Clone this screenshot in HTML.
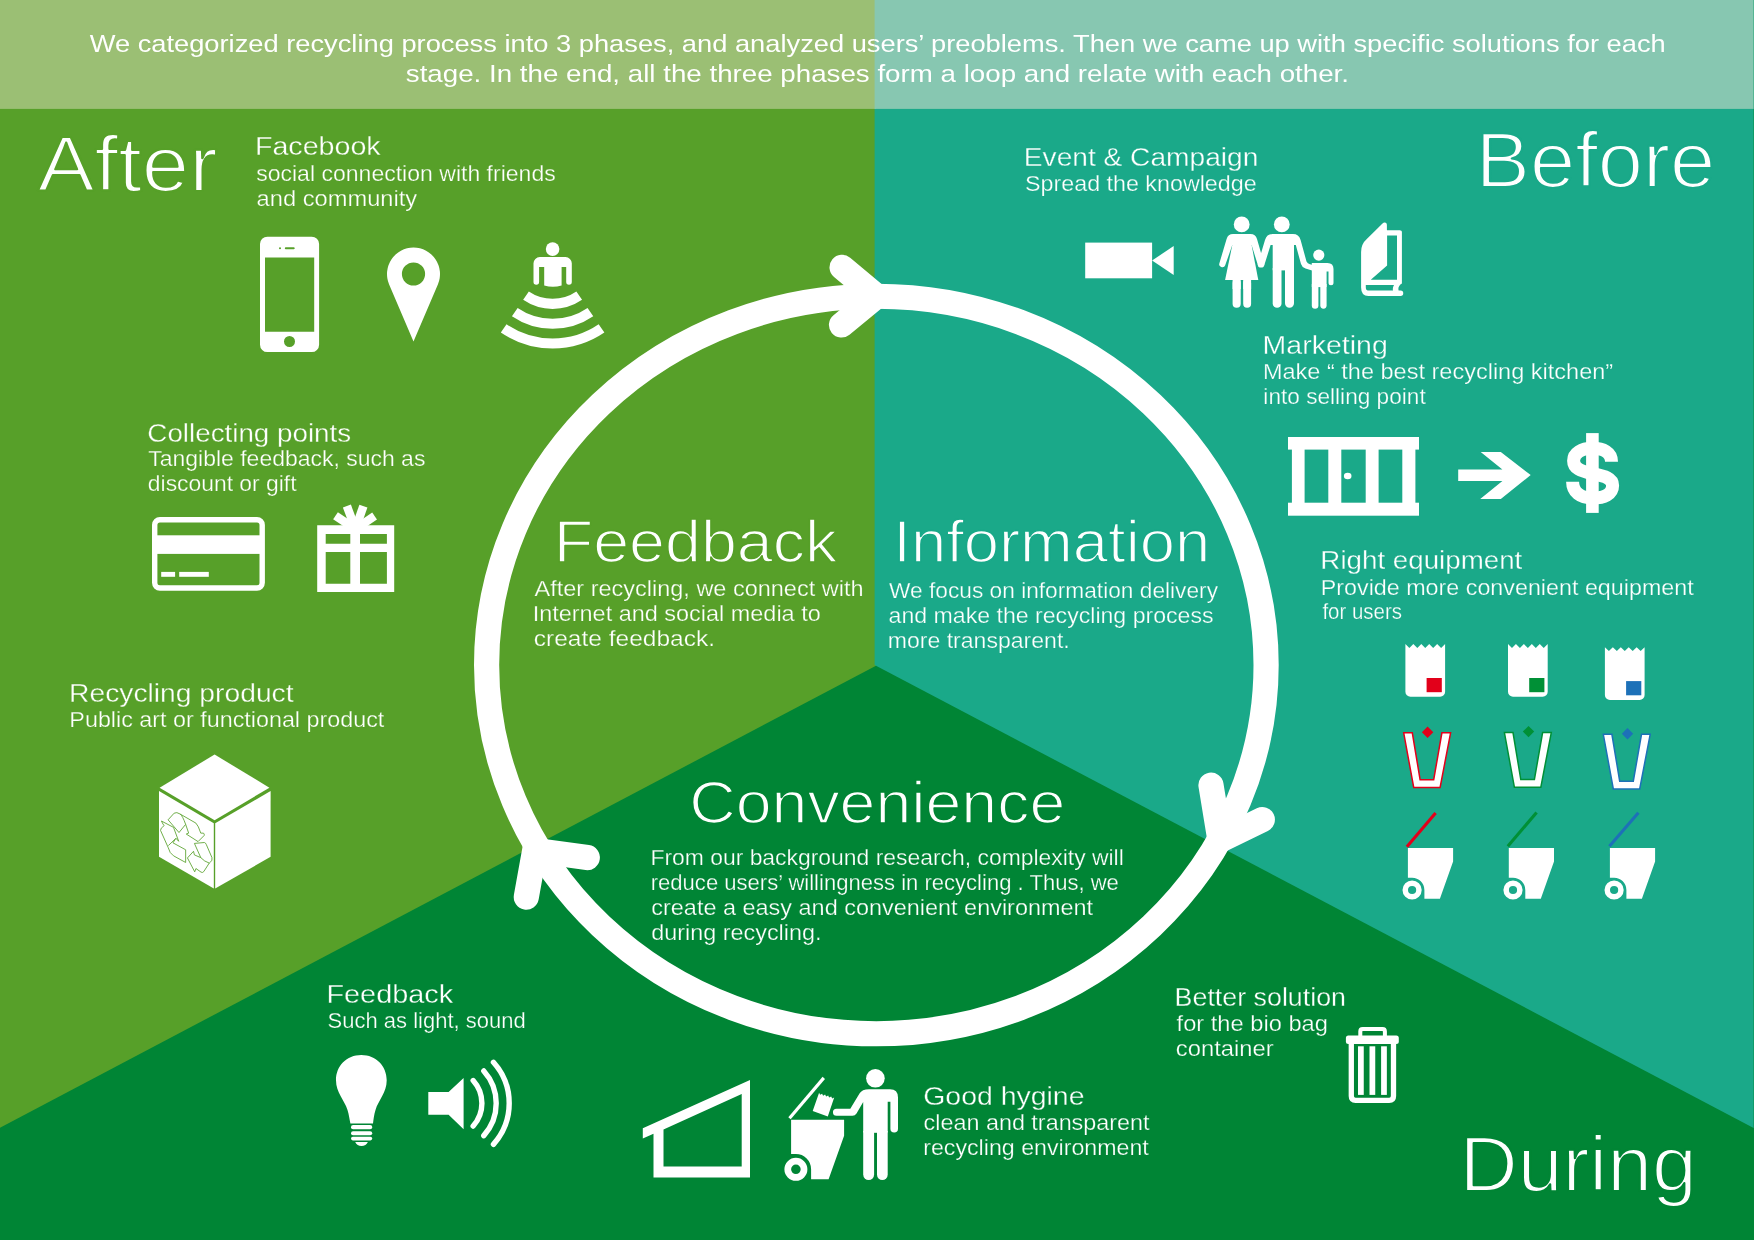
<!DOCTYPE html>
<html><head><meta charset="utf-8"><title>Recycling loop</title>
<style>
html,body{margin:0;padding:0;background:#008535;}
body{width:1755px;height:1240px;overflow:hidden;}
svg{display:block;}
text{font-family:"Liberation Sans",sans-serif;fill:#fff;paint-order:fill stroke;stroke-linejoin:round;}
#labels{opacity:0.999;}
</style></head><body>
<svg width="1755" height="1240" viewBox="0 0 1755 1240">

<defs><clipPath id="cl"><rect x="0" y="0" width="874.6" height="109"/></clipPath><clipPath id="cr"><rect x="874.6" y="0" width="881" height="109"/></clipPath></defs>
<rect width="1755" height="1240" fill="#008535"/>
<polygon points="0,0 876,0 876,665.7 0,1127.7" fill="#57a029"/>
<polygon points="874.6,0 1753.6,0 1753.6,1128 874.6,665" fill="#1aa989"/>
<rect x="0" y="0" width="876" height="108.9" fill="#9bbf74"/>
<rect x="874.6" y="0" width="879" height="108.9" fill="#87c7b1"/>
<rect x="1754" y="0" width="1" height="1240" fill="#fff"/>


<g fill="none" stroke="#fff" stroke-width="25.2" stroke-linecap="round" stroke-linejoin="miter">
<ellipse cx="876.35" cy="665" rx="389.75" ry="368.75"/>
<polyline points="842.1,267.4 876.5,296.1 841.5,324.9"/>
<polyline points="1211,785.2 1220,840.2 1262.3,819.6"/>
<polyline points="587.3,857.6 534.7,850.3 526.3,897.1"/>
</g>

<g id="icons" fill="#fff">
<path fill-rule="evenodd" d="M267.4,236.7 H311.7 A7.4,7.4 0 0 1 319.1,244.1 V344.7 A7.4,7.4 0 0 1 311.7,352.1 H267.4 A7.4,7.4 0 0 1 260,344.7 V244.1 A7.4,7.4 0 0 1 267.4,236.7 Z M265,257.5 V331.8 H314.2 V257.5 Z M295,341.5 A5.5,5.5 0 1 0 284,341.5 A5.5,5.5 0 1 0 295,341.5 Z M285.8,247.2 H293.7 A1,1 0 0 1 293.7,249.2 H285.8 A1,1 0 0 1 285.8,247.2 Z M281,248.2 A1,1 0 1 0 279,248.2 A1,1 0 1 0 281,248.2 Z"/>
<path fill-rule="evenodd" d="M413.5,341.5 L437.87,284.4 A26.5,26.5 0 1 0 389.13,284.4 Z M425.1,274 A11.6,11.6 0 1 0 401.9,274 A11.6,11.6 0 1 0 425.1,274 Z"/>
<circle cx="552.6" cy="249.1" r="6.8"/>
<path d="M539.8,257.05 H565.5 A6.3,6.3 0 0 1 571.8,263.35 V281.9 A2.8,2.8 0 0 1 566.2,281.9 V266.9 H561.6 V285.6 Q552.9,288 544.2,285.6 V266.9 H539.1 V281.9 A2.8,2.8 0 0 1 533.5,281.9 V263.35 A6.3,6.3 0 0 1 539.8,257.05 Z"/>
<path d="M579.20,295.69 A47.20,47.20 0 0 1 526.00,295.69" fill="none" stroke="#fff" stroke-width="10.1" stroke-linecap="butt"/>
<path d="M590.41,312.13 A67.10,67.10 0 0 1 514.79,312.13" fill="none" stroke="#fff" stroke-width="10.1" stroke-linecap="butt"/>
<path d="M601.51,328.41 A86.80,86.80 0 0 1 503.69,328.41" fill="none" stroke="#fff" stroke-width="10.1" stroke-linecap="butt"/>
<rect x="1085.2" y="242.6" width="66.9" height="35.7"/>
<polygon points="1152.1,260.5 1173.7,246 1173.7,275.1"/>
<circle cx="1241.7" cy="224.4" r="7.9"/>
<path d="M1232.3,245.1 L1225.1,280 H1258.3 L1251.6,245.1 Z"/>
<path d="M1233,234.1 H1250.5 Q1255.5,234.1 1257,239 L1264,263.3 L1261,264.5 L1258,265.5 L1251.6,245.1 H1232.3 L1225.2,265.2 A3,3 0 0 1 1219.4,263.2 L1226.6,239 Q1228,234.1 1233,234.1 Z"/>
<rect x="1232.6" y="279" width="8.1" height="28.8" rx="4" ry="4"/><rect x="1232.6" y="279" width="8.1" height="10"/>
<rect x="1243.2" y="279" width="7.9" height="28.8" rx="4" ry="4"/><rect x="1243.2" y="279" width="7.9" height="10"/>
<circle cx="1281.8" cy="224.4" r="7.9"/>
<path d="M1272.5,234.1 H1293 Q1298.8,234.1 1300.6,240 L1306.5,261.5 Q1307.5,263.8 1310,264.3 L1312,264.8 V270.5 L1305.5,268.6 Q1302,267.4 1301,264 L1295.8,245.1 H1294 V270.2 H1272.7 V245.1 H1270.6 L1264.2,265.5 L1258,263.5 L1265,240 Q1266.8,234.1 1272.5,234.1 Z"/>
<path d="M1272.7,268 H1281.5 V303.4 A4.4,4.4 0 0 1 1272.7,303.4 Z"/>
<path d="M1285,268 H1294 V303.3 A4.5,4.5 0 0 1 1285,303.3 Z"/>
<rect x="1281" y="262" width="5" height="8.2"/>
<circle cx="1261" cy="264.4" r="3.2"/>
<circle cx="1318.8" cy="255.1" r="5.6"/>
<path d="M1311.8,262.9 H1327.5 Q1333.5,262.9 1333.5,269 V282.7 A2.5,2.5 0 0 1 1328.5,282.7 V271.5 H1326.6 V287.1 H1311.8 Z"/>
<path d="M1311.8,284 H1318.4 V305.5 A3.3,3.3 0 0 1 1311.8,305.5 Z"/>
<path d="M1320.3,284 H1326.6 V305.6 A3.15,3.15 0 0 1 1320.3,305.6 Z"/>
<rect x="1318" y="282" width="3" height="5.1"/>
<path fill-rule="evenodd" d="M1384.5,222.5 Q1386.9,222.3 1386.9,225.3 V230.2 H1399.8 Q1401.9,230.2 1401.9,231.8 V283.4 Q1397.5,286 1398.6,290.6 H1400.6 A2.65,2.65 0 0 1 1400.6,295.9 H1368.4 Q1361.1,295.9 1361.1,287.4 V251.9 Q1361.1,244 1366.8,239 L1382.5,223.6 Q1383.5,222.6 1384.5,222.5 Z M1387.1,235.6 H1397 V279.8 H1370.8 L1387.1,265.6 Z M1365.8,285 H1394 Q1392.3,288 1393,290.6 H1369.2 Q1365.8,290.6 1365.8,287.4 Z"/>
<rect x="1288" y="437" width="131" height="12.6"/><rect x="1288" y="502.7" width="131" height="13"/>
<rect x="1291.9" y="445" width="12.7" height="62"/>
<rect x="1328.3" y="445" width="13.0" height="62"/>
<rect x="1365.7" y="445" width="12.9" height="62"/>
<rect x="1402.3" y="445" width="13.1" height="62"/>
<ellipse cx="1347.7" cy="476" rx="3.8" ry="3.2"/>
<polygon points="1458.2,469.4 1502.4,469.4 1480.7,452.1 1500.8,452.1 1530.7,475.1 1500.8,498.9 1480.2,498.9 1502.4,481.1 1458.2,481.1"/>
<path d="M1611.5,461.8 C1611.5,452.1 1603.1,448.3 1592.5,448.3 C1581.4,448.3 1573.6,453.1 1573.6,460.7 C1573.6,468.3 1580.3,471 1592.5,473.7 C1605.2,476.4 1612.6,478 1612.6,485.6 C1612.6,494.3 1604.1,498.1 1592.5,498.1 C1580.3,498.1 1572.6,492.1 1572.6,481.8" fill="none" stroke="#fff" stroke-width="13"/>
<rect x="1586.1" y="433.1" width="12.6" height="79.8"/>
<path d="M1405.40,691.80 V644.10 L1409.37,648.00 L1413.34,644.10 L1417.31,648.00 L1421.28,644.10 L1425.25,648.00 L1429.22,644.10 L1433.19,648.00 L1437.16,644.10 L1441.13,648.00 L1445.10,644.10 V691.80 A5,5 0 0 1 1440.10,696.80 H1410.40 A5,5 0 0 1 1405.40,691.80 Z"/>
<rect x="1426.60" y="678.00" width="15.2" height="14.2" fill="#e2001a"/>
<path d="M1508.00,691.80 V644.10 L1511.97,648.00 L1515.94,644.10 L1519.91,648.00 L1523.88,644.10 L1527.85,648.00 L1531.82,644.10 L1535.79,648.00 L1539.76,644.10 L1543.73,648.00 L1547.70,644.10 V691.80 A5,5 0 0 1 1542.70,696.80 H1513.00 A5,5 0 0 1 1508.00,691.80 Z"/>
<rect x="1529.20" y="678.00" width="15.2" height="14.2" fill="#009036"/>
<path d="M1604.90,694.90 V647.20 L1608.87,651.10 L1612.84,647.20 L1616.81,651.10 L1620.78,647.20 L1624.75,651.10 L1628.72,647.20 L1632.69,651.10 L1636.66,647.20 L1640.63,651.10 L1644.60,647.20 V694.90 A5,5 0 0 1 1639.60,699.90 H1609.90 A5,5 0 0 1 1604.90,694.90 Z"/>
<rect x="1626.10" y="681.10" width="15.2" height="14.2" fill="#1d71b8"/>
<polygon points="1403.70,732.80 1412.30,732.80 1420.10,779.70 1433.70,779.70 1441.90,732.80 1450.60,732.80 1440.10,787.50 1413.70,787.50" fill="#fff" stroke="#e2001a" stroke-width="1.5" stroke-linejoin="miter"/>
<polygon points="1427.60,726.60 1433.30,732.30 1427.60,738.00 1421.90,732.30" fill="#e2001a"/>
<polygon points="1504.40,732.60 1513.00,732.60 1520.80,779.50 1534.40,779.50 1542.60,732.60 1551.30,732.60 1540.80,787.30 1514.40,787.30" fill="#fff" stroke="#009036" stroke-width="1.5" stroke-linejoin="miter"/>
<polygon points="1528.50,725.90 1534.20,731.60 1528.50,737.30 1522.80,731.60" fill="#009036"/>
<polygon points="1603.30,734.30 1611.90,734.30 1619.70,781.20 1633.30,781.20 1641.50,734.30 1650.20,734.30 1639.70,789.00 1613.30,789.00" fill="#fff" stroke="#1d71b8" stroke-width="1.5" stroke-linejoin="miter"/>
<polygon points="1627.50,728.10 1633.20,733.80 1627.50,739.50 1621.80,733.80" fill="#1d71b8"/>
<path d="M1407.90,848.00 H1453.10 V861.50 L1439.90,898.70 H1424.40 V890.00 A12.3,12.3 0 0 0 1412.10,877.70 H1407.90 Z"/>
<circle cx="1412.10" cy="890.00" r="6.85" fill="none" stroke="#fff" stroke-width="5.5"/>
<line x1="1406.9" y1="846.8" x2="1435.6" y2="813" stroke="#e2001a" stroke-width="3.1"/>
<path d="M1508.80,848.00 H1554.00 V861.50 L1540.80,898.70 H1525.30 V890.00 A12.3,12.3 0 0 0 1513.00,877.70 H1508.80 Z"/>
<circle cx="1513.00" cy="890.00" r="6.85" fill="none" stroke="#fff" stroke-width="5.5"/>
<line x1="1507.8" y1="846.2" x2="1536.6" y2="812.5" stroke="#009036" stroke-width="3.1"/>
<path d="M1609.90,848.00 H1655.10 V861.50 L1641.90,898.70 H1626.40 V890.00 A12.3,12.3 0 0 0 1614.10,877.70 H1609.90 Z"/>
<circle cx="1614.10" cy="890.00" r="6.85" fill="none" stroke="#fff" stroke-width="5.5"/>
<line x1="1609.4" y1="846.2" x2="1638.4" y2="812.8" stroke="#1d71b8" stroke-width="3.1"/>
<rect x="154.7" y="519.7" width="107.5" height="68.3" rx="5.2" ry="5.2" fill="none" stroke="#fff" stroke-width="5.4"/>
<rect x="154" y="535.3" width="109" height="18.6"/>
<rect x="161.2" y="571.9" width="13.9" height="4.9"/><rect x="179.2" y="571.9" width="29.6" height="4.9"/>
<path fill-rule="evenodd" d="M317.2,525.3 H394.2 V591.9 H317.2 Z M325.7,533.9 V543.8 H350.3 V533.9 Z M360,533.9 V543.8 H386.9 V533.9 Z M325.7,551.9 V583.8 H350.3 V551.9 Z M360,551.9 V583.8 H386.9 V551.9 Z"/>
<line x1="355.4" y1="529" x2="335.5" y2="515.8" stroke="#fff" stroke-width="8.5"/>
<line x1="355.4" y1="529" x2="346.9" y2="506.1" stroke="#fff" stroke-width="8.5"/>
<line x1="355.4" y1="529" x2="363.4" y2="506.1" stroke="#fff" stroke-width="8.5"/>
<line x1="355.4" y1="529" x2="374.6" y2="515.9" stroke="#fff" stroke-width="8.5"/>
<polygon points="214.6,754.5 269.4,787.7 214.6,820.3 159.6,787.7"/>
<polygon points="159,791 213.8,823.2 213.8,888.6 159,856.8"/>
<polygon points="215.2,823.2 270.6,791 270.6,856.8 215.2,888.6"/>
<g transform="translate(156,805) scale(0.06050)" fill="none" stroke="#57a029" stroke-width="14" stroke-linejoin="round"><path d="M200,245 L300,135 Q340,110 400,150 L660,300 Q700,340 740,465 L785,465 Q805,480 795,505 L695,605 L500,480 L540,465 L490,320 L380,455 Z"/><path d="M400,150 Q440,180 490,320"/><path d="M90,265 L290,370 L375,600 L330,550 L280,625 L490,740 L490,950 L290,840 Q225,800 200,700 L75,420 Q70,385 135,340 L115,315 Z"/><path d="M325,555 L205,670"/><path d="M635,635 L800,620 Q820,625 830,650 L925,870 Q945,920 880,960 L790,1100 Q770,1125 745,1110 L660,1050 L640,1105 L520,875 L620,765 L635,825 L740,870 Z"/><path d="M740,870 Q800,935 880,960"/></g>
<path d="M361.3,1055 C376,1055 386.7,1066 386.7,1080.3 C386.7,1093 378.5,1100 375.5,1110 C374,1115 373.5,1119 373,1123.4 H350.4 C349.5,1119 349,1115 347.5,1110 C344.5,1100 336,1093 336,1080.3 C336,1066 346.6,1055 361.3,1055 Z"/>
<rect x="351" y="1125" width="21.2" height="4.3" rx="2.1"/>
<rect x="351" y="1131.2" width="21.2" height="4.0" rx="2.0"/>
<rect x="351" y="1136.8" width="21.2" height="3.6" rx="1.8"/>
<path d="M355.2,1141.9 H367.9 Q366,1145.9 361.5,1145.9 Q357,1145.9 355.2,1141.9 Z"/>
<polygon points="428.3,1092.1 448.6,1092.1 463.6,1078 463.6,1129.3 448.6,1114.8 428.3,1114.8"/>
<path d="M473.17,1080.55 A34.00,34.00 0 0 1 473.17,1126.05" fill="none" stroke="#fff" stroke-width="5.4" stroke-linecap="round"/>
<path d="M483.79,1070.98 A48.30,48.30 0 0 1 483.79,1135.62" fill="none" stroke="#fff" stroke-width="5.4" stroke-linecap="round"/>
<path d="M493.45,1062.28 A61.30,61.30 0 0 1 493.45,1144.32" fill="none" stroke="#fff" stroke-width="5.4" stroke-linecap="round"/>
<path fill-rule="evenodd" d="M642.8,1128.3 L750,1079.9 V1177.6 H653.5 V1133.7 L642.8,1138.5 Z M663.5,1129.4 L741.7,1094 V1166.6 H663.5 Z"/>
<path d="M791.1,1119.8 H844.1 V1135.8 L828.6,1179.3 H811.1 V1169.3 A15.2,15.2 0 0 0 795.9,1154.1 H791.1 Z"/>
<circle cx="795.9" cy="1169.3" r="8.15" fill="none" stroke="#fff" stroke-width="6.7"/>
<line x1="789.5" y1="1118.2" x2="823.8" y2="1077.9" stroke="#fff" stroke-width="3.2"/>
<polygon points="819.1,1092.7 820.1,1094.7 822.1,1093.7 823.1,1095.7 825.1,1094.6 826.1,1096.6 828.2,1095.6 829.1,1097.6 831.2,1096.5 832.2,1098.5 834.2,1097.5 827.8,1116.6 812.7,1111.1"/>
<circle cx="875.4" cy="1078.3" r="9.3"/>
<path d="M869,1089.2 H890 Q898,1089.2 898,1097.5 V1128.8 A3.8,3.8 0 0 1 890.4,1128.8 V1101.8 H887.7 V1132.6 H863.2 V1102 L856.5,1113.6 Q855,1115.8 852.5,1115.8 H836.5 A3.55,3.55 0 0 1 836.5,1108.7 H850.3 L859.5,1093.5 Q862,1089.2 869,1089.2 Z"/>
<path d="M863.2,1131 H874.1 V1174.6 A5.45,5.45 0 0 1 863.2,1174.6 Z"/>
<path d="M877,1131 H887.7 V1174.7 A5.35,5.35 0 0 1 877,1174.7 Z"/>
<rect x="873" y="1124" width="5" height="8.6"/>
<rect x="1345.9" y="1035.4" width="52.9" height="8.5" rx="2.5"/>
<path d="M1360.3,1037 V1031.5 Q1360.3,1029.1 1362.7,1029.1 H1382.5 Q1384.9,1029.1 1384.9,1031.5 V1037" fill="none" stroke="#fff" stroke-width="4"/>
<path d="M1351.3,1042 V1096 Q1351.3,1100.3 1355.6,1100.3 H1389.2 Q1393.5,1100.3 1393.5,1096 V1042" fill="none" stroke="#fff" stroke-width="5.3"/>
<rect x="1358" y="1046.3" width="5.75" height="48.6"/>
<rect x="1369.5" y="1046.3" width="5.75" height="48.6"/>
<rect x="1381.1" y="1046.3" width="5.75" height="48.6"/>
</g>
<g id="labels">
<text x="37.88" y="190.61" font-size="77.6" textLength="179.61" lengthAdjust="spacingAndGlyphs" stroke="#57a029" stroke-width="2.02">After</text>
<text x="1475.89" y="186.81" font-size="77.6" textLength="239.20" lengthAdjust="spacingAndGlyphs" stroke="#1aa989" stroke-width="2.02">Before</text>
<text x="1459.45" y="1190.81" font-size="77.6" textLength="237.53" lengthAdjust="spacingAndGlyphs" stroke="#008535" stroke-width="2.02">During</text>
<text x="553.81" y="561.66" font-size="58.6" textLength="283.43" lengthAdjust="spacingAndGlyphs" stroke="#57a029" stroke-width="1.52">Feedback</text>
<text x="893.37" y="561.66" font-size="58.6" textLength="316.83" lengthAdjust="spacingAndGlyphs" stroke="#1aa989" stroke-width="1.52">Information</text>
<text x="689.24" y="823.46" font-size="58.6" textLength="376.00" lengthAdjust="spacingAndGlyphs" stroke="#008535" stroke-width="1.52">Convenience</text>
<text x="254.96" y="155.25" font-size="24.9" textLength="125.73" lengthAdjust="spacingAndGlyphs" stroke="#57a029" stroke-width="0.30">Facebook</text>
<text x="256.16" y="180.73" font-size="21.2" textLength="299.60" lengthAdjust="spacingAndGlyphs" stroke="#57a029" stroke-width="0.25">social connection with friends</text>
<text x="256.56" y="205.63" font-size="21.2" textLength="160.63" lengthAdjust="spacingAndGlyphs" stroke="#57a029" stroke-width="0.25">and community</text>
<text x="1023.82" y="165.55" font-size="24.9" textLength="234.53" lengthAdjust="spacingAndGlyphs" stroke="#1aa989" stroke-width="0.30">Event &amp; Campaign</text>
<text x="1025.04" y="191.03" font-size="21.2" textLength="231.61" lengthAdjust="spacingAndGlyphs" stroke="#1aa989" stroke-width="0.25">Spread the knowledge</text>
<text x="1262.61" y="354.35" font-size="24.9" textLength="125.16" lengthAdjust="spacingAndGlyphs" stroke="#1aa989" stroke-width="0.30">Marketing</text>
<text x="1262.90" y="379.13" font-size="21.2" textLength="350.24" lengthAdjust="spacingAndGlyphs" stroke="#1aa989" stroke-width="0.25">Make “ the best recycling kitchen”</text>
<text x="1263.38" y="404.03" font-size="21.2" textLength="162.31" lengthAdjust="spacingAndGlyphs" stroke="#1aa989" stroke-width="0.25">into selling point</text>
<text x="1320.37" y="569.35" font-size="24.9" textLength="201.95" lengthAdjust="spacingAndGlyphs" stroke="#1aa989" stroke-width="0.30">Right equipment</text>
<text x="1320.74" y="594.73" font-size="21.2" textLength="372.96" lengthAdjust="spacingAndGlyphs" stroke="#1aa989" stroke-width="0.25">Provide more convenient equipment</text>
<text x="1322.40" y="619.13" font-size="21.2" textLength="79.63" lengthAdjust="spacingAndGlyphs" stroke="#1aa989" stroke-width="0.25">for users</text>
<text x="147.39" y="441.55" font-size="24.9" textLength="203.75" lengthAdjust="spacingAndGlyphs" stroke="#57a029" stroke-width="0.30">Collecting points</text>
<text x="148.27" y="466.33" font-size="21.2" textLength="277.12" lengthAdjust="spacingAndGlyphs" stroke="#57a029" stroke-width="0.25">Tangible feedback, such as</text>
<text x="147.88" y="491.23" font-size="21.2" textLength="148.65" lengthAdjust="spacingAndGlyphs" stroke="#57a029" stroke-width="0.25">discount or gift</text>
<text x="69.06" y="701.95" font-size="24.9" textLength="224.53" lengthAdjust="spacingAndGlyphs" stroke="#57a029" stroke-width="0.30">Recycling product</text>
<text x="69.38" y="726.53" font-size="21.2" textLength="314.92" lengthAdjust="spacingAndGlyphs" stroke="#57a029" stroke-width="0.25">Public art or functional product</text>
<text x="326.48" y="1002.75" font-size="24.9" textLength="126.66" lengthAdjust="spacingAndGlyphs" stroke="#008535" stroke-width="0.30">Feedback</text>
<text x="327.60" y="1028.03" font-size="21.2" textLength="198.06" lengthAdjust="spacingAndGlyphs" stroke="#008535" stroke-width="0.25">Such as light, sound</text>
<text x="923.19" y="1104.75" font-size="24.9" textLength="161.29" lengthAdjust="spacingAndGlyphs" stroke="#008535" stroke-width="0.30">Good hygine</text>
<text x="923.58" y="1129.93" font-size="21.2" textLength="225.97" lengthAdjust="spacingAndGlyphs" stroke="#008535" stroke-width="0.25">clean and transparent</text>
<text x="923.19" y="1154.73" font-size="21.2" textLength="225.56" lengthAdjust="spacingAndGlyphs" stroke="#008535" stroke-width="0.25">recycling environment</text>
<text x="1174.64" y="1006.05" font-size="24.9" textLength="171.34" lengthAdjust="spacingAndGlyphs" stroke="#008535" stroke-width="0.30">Better solution</text>
<text x="1176.59" y="1031.03" font-size="21.2" textLength="151.30" lengthAdjust="spacingAndGlyphs" stroke="#008535" stroke-width="0.25">for the bio bag</text>
<text x="1175.89" y="1056.33" font-size="21.2" textLength="97.88" lengthAdjust="spacingAndGlyphs" stroke="#008535" stroke-width="0.25">container</text>
<text x="534.62" y="595.93" font-size="21.2" textLength="328.85" lengthAdjust="spacingAndGlyphs" stroke="#57a029" stroke-width="0.25">After recycling, we connect with</text>
<text x="532.67" y="621.13" font-size="21.2" textLength="288.08" lengthAdjust="spacingAndGlyphs" stroke="#57a029" stroke-width="0.25">Internet and social media to</text>
<text x="533.83" y="646.23" font-size="21.2" textLength="181.21" lengthAdjust="spacingAndGlyphs" stroke="#57a029" stroke-width="0.25">create feedback.</text>
<text x="889.06" y="597.53" font-size="21.2" textLength="328.97" lengthAdjust="spacingAndGlyphs" stroke="#1aa989" stroke-width="0.25">We focus on information delivery</text>
<text x="888.58" y="622.63" font-size="21.2" textLength="324.99" lengthAdjust="spacingAndGlyphs" stroke="#1aa989" stroke-width="0.25">and make the recycling process</text>
<text x="887.75" y="647.83" font-size="21.2" textLength="182.00" lengthAdjust="spacingAndGlyphs" stroke="#1aa989" stroke-width="0.25">more transparent.</text>
<text x="650.41" y="864.93" font-size="21.2" textLength="473.36" lengthAdjust="spacingAndGlyphs" stroke="#008535" stroke-width="0.25">From our background research, complexity will</text>
<text x="650.73" y="890.03" font-size="21.2" textLength="468.16" lengthAdjust="spacingAndGlyphs" stroke="#008535" stroke-width="0.25">reduce users’ willingness in recycling . Thus, we</text>
<text x="651.30" y="914.83" font-size="21.2" textLength="441.85" lengthAdjust="spacingAndGlyphs" stroke="#008535" stroke-width="0.25">create a easy and convenient environment</text>
<text x="651.29" y="940.13" font-size="21.2" textLength="170.22" lengthAdjust="spacingAndGlyphs" stroke="#008535" stroke-width="0.25">during recycling.</text>
<g clip-path="url(#cl)"><text x="89.66" y="51.70" font-size="24.6" textLength="1576.03" lengthAdjust="spacingAndGlyphs" stroke="#9bbf74" stroke-width="0.00">We categorized recycling process into 3 phases, and analyzed users’ preoblems. Then we came up with specific solutions for each</text><text x="405.80" y="81.90" font-size="24.6" textLength="943.20" lengthAdjust="spacingAndGlyphs" stroke="#9bbf74" stroke-width="0.00">stage. In the end, all the three phases form a loop and relate with each other.</text></g>
<g clip-path="url(#cr)"><text x="89.66" y="51.70" font-size="24.6" textLength="1576.03" lengthAdjust="spacingAndGlyphs" stroke="#87c7b1" stroke-width="0.00">We categorized recycling process into 3 phases, and analyzed users’ preoblems. Then we came up with specific solutions for each</text><text x="405.80" y="81.90" font-size="24.6" textLength="943.20" lengthAdjust="spacingAndGlyphs" stroke="#87c7b1" stroke-width="0.00">stage. In the end, all the three phases form a loop and relate with each other.</text></g>
</g>
</svg>
</body></html>
